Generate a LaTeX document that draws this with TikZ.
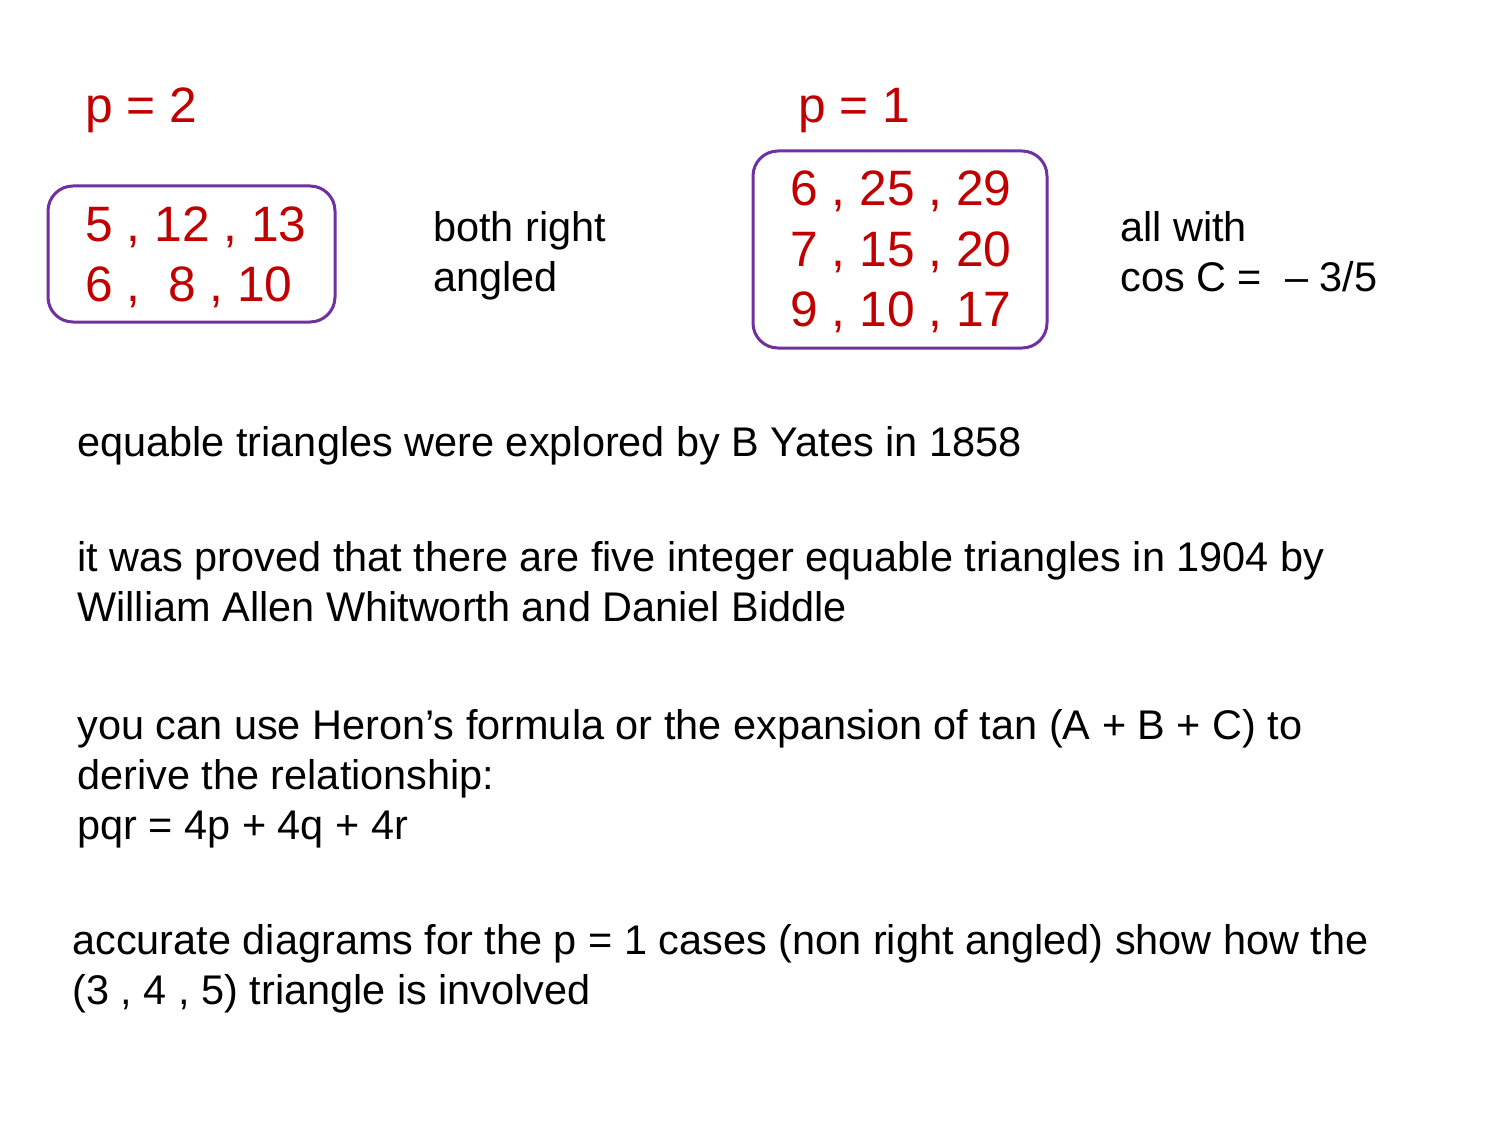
\documentclass[tikz,border=0pt]{standalone}
\usepackage{fontspec}
\setmainfont{Liberation Sans}
\definecolor{dred}{HTML}{C00000}
\definecolor{purp}{HTML}{7030A0}
\begin{document}
\begin{tikzpicture}[x=0.02cm,y=-0.02cm,
  txt/.style={anchor=base west,inner sep=0,font=\fontsize{23.6}{28}\selectfont},
  big/.style={anchor=base west,inner sep=0,text=dred,font=\fontsize{28.3}{34}\selectfont},
  box/.style={draw=purp,line width=0.06cm,rounded corners=0.5cm}]
\useasboundingbox (0,0) rectangle (1500,1125);
\node[big] (p2) at (85,123) {p = 2};
\node[big] (p1) at (798,123) {p = 1};
\draw[box] (48,186) rectangle (335,322);
\node[big] (a1) at (85,241) {5 , 12 , 13};
\node[big] (a2) at (85,301) {6 ,\ \ 8 , 10};
\draw[box] (753,151) rectangle (1047,348);
\node[big] (b1) at (790,206) {6 , 25 , 29};
\node[big] (b2) at (790,266) {7 , 15 , 20};
\node[big] (b3) at (790,326) {9 , 10 , 17};
\node[txt] (r1) at (433,241) {both right};
\node[txt] (r2) at (433,291) {angled};
\node[txt] (c1) at (1120,241) {all with};
\node[txt] (c2) at (1120,291) {cos C =\ \ – 3/5};
\node[txt] (t1) at (77,456) {equable triangles were explored by B Yates in 1858};
\node[txt] (t2) at (77,571) {it was proved that there are five integer equable triangles in 1904 by};
\node[txt] (t3) at (77,621) {William Allen Whitworth and Daniel Biddle};
\node[txt] (t4) at (77,739) {you can use Heron’s formula or the expansion of tan (A + B + C) to};
\node[txt] (t5) at (77,789) {derive the relationship:};
\node[txt] (t6) at (77,839) {pqr = 4p + 4q + 4r};
\node[txt] (t7) at (72,954) {accurate diagrams for the p = 1 cases (non right angled) show how the};
\node[txt] (t8) at (72,1004) {(3 , 4 , 5) triangle is involved};
\end{tikzpicture}
\end{document}
